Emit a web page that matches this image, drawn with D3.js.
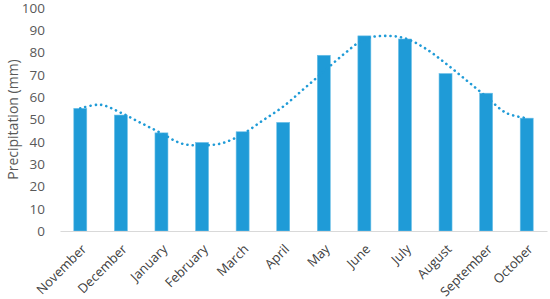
<!DOCTYPE html>
<html>
<head>
<meta charset="utf-8">
<script src="https://cdn.jsdelivr.net/npm/d3@7"></script>
<style>
  body { margin: 0; background: #fff; }
  text { font-family: "Open Sans", sans-serif; }
</style>
</head>
<body>
<svg id="chart" width="550" height="299"></svg>
<script>
// monthly precipitation
const months = ["November", "December", "January", "February", "March", "April",
                "May", "June", "July", "August", "September", "October"];
const rain = [55, 52, 44, 39.7, 44.5, 48.7, 78.8, 87.5, 86.1, 70.6, 61.8, 50.6];
const yTicks = [0, 10, 20, 30, 40, 50, 60, 70, 80, 90, 100];
// dotted trend line, read at each month and half-way between months
const trendPos = [0, 0.5, 1, 1.5, 2, 2.5, 3, 3.5, 4, 4.5, 5, 5.5, 6, 6.5, 7, 7.5, 8, 8.5, 9, 9.5, 10, 10.5, 11];
const trendVal = [55, 56.6, 53, 48.4, 43.8, 39.2, 38.4, 39.4, 43.5, 49.6, 55.8, 63.6, 71.5, 79.4, 86, 87.5, 86.4, 81.9, 75.2, 67.8, 60.3, 52.9, 50.6];

const margin = { top: 8, right: 3, bottom: 68, left: 60 };
const W = 550, H = 299;
const w = W - margin.left - margin.right, h = H - margin.top - margin.bottom;

const svg = d3.select("#chart");
const g = svg.append("g").attr("transform", `translate(${margin.left},${margin.top})`);

const x = d3.scaleBand().domain(months).range([0, w]).paddingInner(0.68).paddingOuter(0.34);
const y = d3.scaleLinear().domain([0, 100]).range([h, 0]);
const xc = d3.scaleLinear().domain([0, months.length - 1])
  .range([x(months[0]) + x.bandwidth() / 2, x(months[months.length - 1]) + x.bandwidth() / 2]);

// y axis labels only
const yAxis = g.append("g").call(d3.axisLeft(y).tickValues(yTicks).tickSize(0).tickPadding(15));
yAxis.select(".domain").remove();
yAxis.selectAll("text").attr("fill", "#595959").style("font-size", "13.5px");

// bars
g.selectAll("rect.bar").data(rain).enter().append("rect")
  .attr("class", "bar")
  .attr("x", (d, i) => x(months[i]))
  .attr("y", d => y(d))
  .attr("width", x.bandwidth())
  .attr("height", d => h - y(d))
  .attr("fill", "#1f9bd7")
  .attr("stroke", "#6cc0e8")
  .attr("stroke-width", 0.6);

// x axis
const xAxis = g.append("g").attr("transform", `translate(0,${h})`)
  .call(d3.axisBottom(x).tickSize(0).tickPadding(8));
xAxis.select(".domain").attr("stroke", "#d9d9d9").attr("stroke-width", 1.2);
xAxis.selectAll("text")
  .attr("fill", "#404040")
  .style("font-size", "13px")
  .attr("text-anchor", "end")
  .attr("dy", "0.35em")
  .attr("transform", "translate(-2,10) rotate(-45)");

// trend line
const line = d3.line()
  .x((d, i) => xc(trendPos[i]))
  .y(d => y(d))
  .curve(d3.curveCatmullRom);
g.append("path").datum(trendVal)
  .attr("d", line)
  .attr("fill", "none")
  .attr("stroke", "#1f9bd7")
  .attr("stroke-width", 2.6)
  .attr("stroke-linecap", "round")
  .attr("stroke-dasharray", "0.1 5.2");

// y title
svg.append("text")
  .attr("transform", `translate(13,${margin.top + h / 2}) rotate(-90)`)
  .attr("text-anchor", "middle")
  .attr("dy", "0.35em")
  .attr("fill", "#595959")
  .style("font-size", "14px")
  .text("Precipitation (mm)");
</script>
</body>
</html>
